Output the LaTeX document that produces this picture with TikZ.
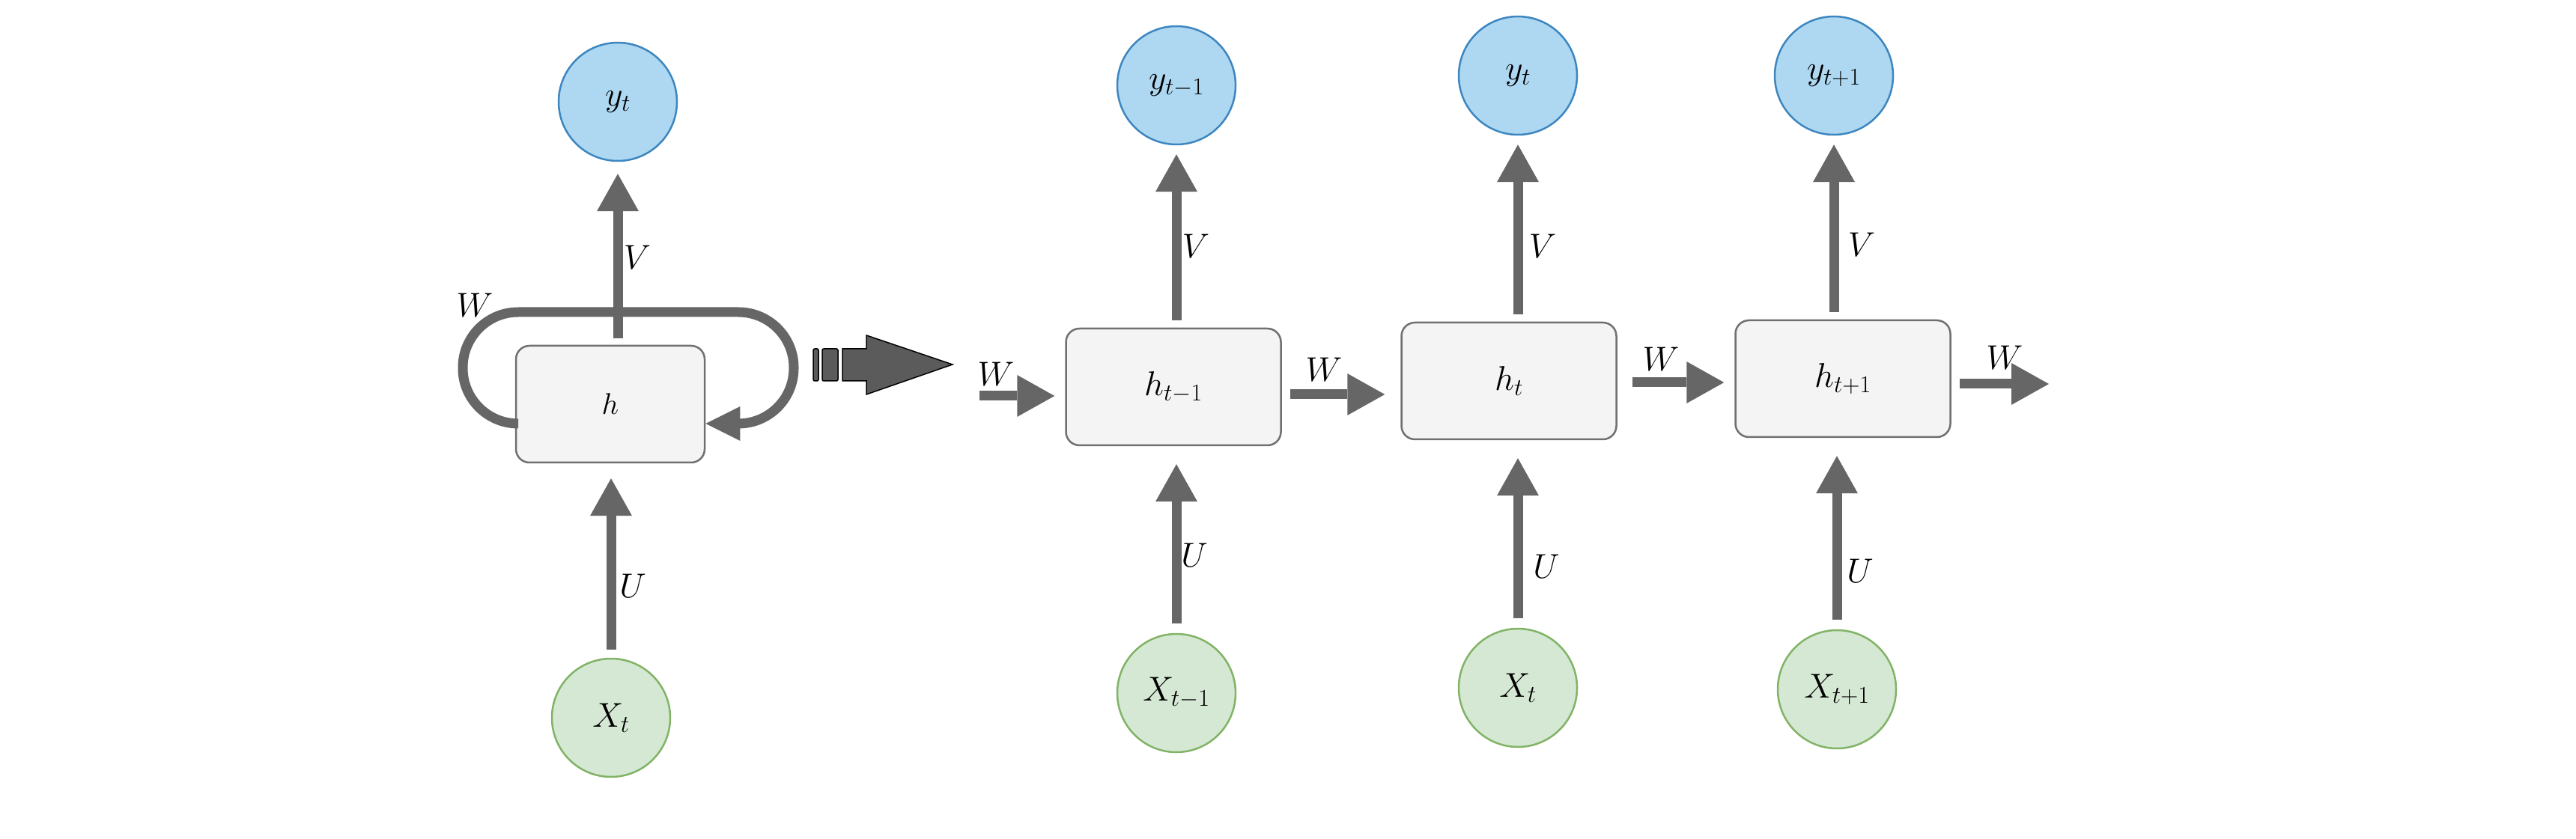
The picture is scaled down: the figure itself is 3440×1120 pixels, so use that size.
\RequirePackage{fix-cm}
\documentclass[tikz,border=0pt]{standalone}
\usetikzlibrary{arrows.meta,calc}
\definecolor{arrgray}{HTML}{666666}
\definecolor{implgray}{HTML}{5B5B5B}
\definecolor{bluefill}{HTML}{AED8F1}
\definecolor{blueline}{HTML}{3D86C0}
\definecolor{greenfill}{HTML}{D5E8D4}
\definecolor{greenline}{HTML}{82B366}
\definecolor{boxfill}{HTML}{F4F4F4}
\definecolor{boxline}{HTML}{707070}
\begin{document}
\begin{tikzpicture}[x=1pt,y=1pt,
  lbl/.style={font=\fontsize{46}{54}\selectfont, inner sep=0pt},
  ycirc/.style={circle, minimum size=158pt, inner sep=0pt, fill=bluefill, draw=blueline, line width=2.5pt, font=\fontsize{46}{54}\selectfont},
  xcirc/.style={circle, minimum size=158pt, inner sep=0pt, fill=greenfill, draw=greenline, line width=2.5pt, font=\fontsize{46}{54}\selectfont},
  hbox/.style={rectangle, rounded corners=18pt, minimum width=287pt, minimum height=156pt, fill=boxfill, draw=boxline, line width=2.5pt, font=\fontsize{46}{54}\selectfont},
  arr/.style={color=arrgray, line width=13pt, -{Triangle[length=50pt,width=56pt,line width=0pt]}},
  looparr/.style={color=arrgray, line width=13pt, rounded corners=74pt, -{Triangle[length=46pt,width=46pt,line width=0pt]}},
  impl/.style={fill=implgray, draw=black, line width=1.5pt}
]
\useasboundingbox (0,0) rectangle (3440,1120);
\fill[white] (0,0) rectangle (3440,1120);

% ---------- folded RNN ----------
\node[hbox, minimum width=252pt, font=\fontsize{40}{48}\selectfont] (hL) at (815,580) {$h$};
\node[ycirc] (yL) at (825,984) {$y_t$};
\node[xcirc] (xL) at (816,161) {$X_t$};

\draw[looparr] ($(hL.west)+(3,-26)$) -- (618,554) -- (618,703) -- (1060,703) -- (1060,554) -- ($(hL.east)+(0,-26)$);
\draw[arr, shorten <=9pt, shorten >=16pt] (yL.south |- hL.north) -- (yL.south);
\draw[arr, shorten <=11pt, shorten >=20pt] (xL.north) -- (xL.north |- hL.south);

\node[lbl] (vL) at (851,776) {$V$};
\node[lbl] (uL) at (845,337) {$U$};
\node[lbl] (wL) at (634,712) {$W$};

% ---------- unfold arrow ----------
\filldraw[impl, rounded corners=2pt] (1086,611) rectangle (1093,654);
\filldraw[impl, rounded corners=2pt] (1098,611) rectangle (1119,654);
\filldraw[impl] (1125,611) -- (1157,611) -- (1157,593) -- (1272,633) -- (1157,672) -- (1157,654) -- (1125,654) -- cycle;

% ---------- unrolled RNN ----------
\node[hbox] (h1) at (1567,603) {$h_{t-1}$};
\node[hbox] (h2) at (2015,611) {$h_t$};
\node[hbox] (h3) at (2461,614) {$h_{t+1}$};

\node[ycirc] (y1) at (1571,1006) {$y_{t-1}$};
\node[ycirc] (y2) at (2027,1019) {$y_t$};
\node[ycirc] (y3) at (2449,1019) {$y_{t+1}$};

\node[xcirc] (x1) at (1571,194) {$X_{t-1}$};
\node[xcirc] (x2) at (2027,201) {$X_t$};
\node[xcirc] (x3) at (2453,199) {$X_{t+1}$};

\foreach \i in {1,2,3}{
  \draw[arr, shorten <=10pt, shorten >=12pt] (y\i.south |- h\i.north) -- (y\i.south);
  \draw[arr, shorten <=13pt, shorten >=24pt] (x\i.north) -- (x\i.north |- h\i.south);
}

\coordinate (win) at (1308,591);
\coordinate (wout) at (2736,607);
\draw[arr] (win) -- ($(h1.west)+(-14,-12)$);
\draw[arr] ($(h1.east)+(11,-10)$) -- ($(h2.west)+(-21,-18)$);
\draw[arr] ($(h2.east)+(20,-2)$) -- ($(h3.west)+(-14,-5)$);
\draw[arr] ($(h3.east)+(11,-7)$) -- (wout);

\node[lbl] (v1) at (1597,791) {$V$};
\node[lbl] (v2) at (2060,791) {$V$};
\node[lbl] (v3) at (2486,793) {$V$};
\node[lbl] (u1) at (1595,378) {$U$};
\node[lbl] (u2) at (2065,363) {$U$};
\node[lbl] (u3) at (2484,357) {$U$};
\node[lbl] (w0) at (1330,620) {$W$};
\node[lbl] (w1) at (1768,626) {$W$};
\node[lbl] (w2) at (2218,640) {$W$};
\node[lbl] (w3) at (2677,642) {$W$};
\end{tikzpicture}
\end{document}
